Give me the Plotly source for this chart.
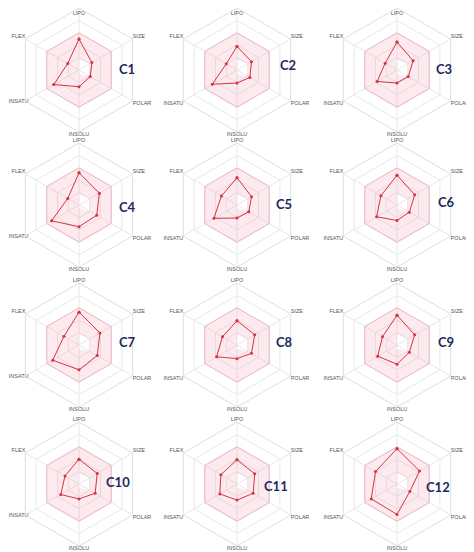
import plotly.graph_objects as go

# bioavailability radar axes, clockwise from the top
axes = ["LIPO", "SIZE", "POLAR", "INSOLU", "INSATU", "FLEX"]
axis_text_pos = ["top center", "top right", "bottom right",
                 "bottom center", "bottom left", "top left"]

# compound values, normalised to the outer hexagon (0-1), in axis order
compounds = ["C1", "C2", "C3", "C4", "C5", "C6",
             "C7", "C8", "C9", "C10", "C11", "C12"]
c1 = [0.50, 0.24, 0.21, 0.27, 0.47, 0.21]
c2 = [0.38, 0.27, 0.24, 0.21, 0.46, 0.20]
c3 = [0.45, 0.30, 0.21, 0.21, 0.37, 0.22]
c4 = [0.52, 0.38, 0.33, 0.35, 0.51, 0.21]
c5 = [0.44, 0.27, 0.22, 0.21, 0.43, 0.29]
c6 = [0.48, 0.33, 0.23, 0.25, 0.38, 0.30]
c7 = [0.53, 0.39, 0.34, 0.40, 0.49, 0.28]
c8 = [0.39, 0.33, 0.27, 0.22, 0.38, 0.27]
c9 = [0.48, 0.33, 0.23, 0.31, 0.36, 0.27]
c10 = [0.40, 0.34, 0.30, 0.24, 0.34, 0.26]
c11 = [0.39, 0.33, 0.30, 0.26, 0.32, 0.30]
c12 = [0.57, 0.42, 0.24, 0.49, 0.48, 0.40]
values = [c1, c2, c3, c4, c5, c6, c7, c8, c9, c10, c11, c12]

# optimal (pink) zone: outer limit and inner limit
zone_outer = [0.6, 0.6, 0.6, 0.6, 0.6, 0.6]
zone_inner = [0.17, 0.20, 0.20, 0.06, 0.0, 0.0]

# layout in figure pixels (the page body adds an 8px offset)
W, H = 474, 552
D = 62  # half size of each polar domain
col_x = [71, 229, 389]
row_y = [62, 197, 337, 476]
label_pos = [(119, 61), (280, 57), (436, 61),
             (119, 199), (276, 196), (438, 194),
             (119, 334), (276, 334), (438, 334),
             (110, 474), (268, 478), (430, 479)]

fig = go.Figure()

for i, name in enumerate(compounds):
    sub = "polar" if i == 0 else f"polar{i + 1}"
    cx = col_x[i % 3]
    cy = row_y[i // 3]

    # pink ring: outer hexagon clockwise + inner shape reversed -> hole
    ring_theta = axes + [axes[0], None] + axes[::-1] + [axes[-1]]
    ring_r = zone_outer + [zone_outer[0], None] + zone_inner[::-1] + [zone_inner[-1]]
    fig.add_trace(go.Scatterpolar(
        r=ring_r, theta=ring_theta, subplot=sub,
        mode="lines", fill="toself",
        fillcolor="rgba(240, 150, 170, 0.2)",
        line=dict(width=0),
        hoverinfo="skip", showlegend=False,
    ))
    fig.add_trace(go.Scatterpolar(
        r=zone_outer + [zone_outer[0]], theta=axes + [axes[0]], subplot=sub,
        mode="lines", line=dict(color="rgba(240, 165, 185, 0.7)", width=1),
        hoverinfo="skip", showlegend=False,
    ))

    v = values[i]
    fig.add_trace(go.Scatterpolar(
        r=v + [v[0]], theta=axes + [axes[0]], subplot=sub,
        mode="lines+markers",
        line=dict(color="#d9323f", width=1),
        marker=dict(size=3, color="#d9323f"),
        name=name, showlegend=False,
    ))

    # axis names just outside the outer vertices
    # (pulled in a little at the page edges so they stay visible)
    label_r = [1.0] * len(axes)
    if i < 3:
        label_r[0] = 0.86
    if i % 3 == 0:
        label_r[4] = 0.94
    fig.add_trace(go.Scatterpolar(
        r=label_r, theta=axes, subplot=sub,
        mode="text", text=axes, textposition=axis_text_pos,
        textfont=dict(size=5.5, color="#555555", family="Liberation Sans"),
        cliponaxis=False, hoverinfo="skip", showlegend=False,
    ))

    fig.layout[sub] = dict(
        domain=dict(x=[max(0, (cx - D) / W), min(1, (cx + D) / W)],
                    y=[max(0, 1 - (cy + D) / H), min(1, 1 - (cy - D) / H)]),
        gridshape="linear",
        bgcolor="white",
        radialaxis=dict(range=[0, 1], tickvals=[0.2, 0.4, 0.6, 0.8, 1.0],
                        showticklabels=False, ticks="", showline=False,
                        gridcolor="#e8e8e8", gridwidth=1),
        angularaxis=dict(rotation=90, direction="clockwise",
                         categoryorder="array", categoryarray=axes,
                         ticks="", showticklabels=False,
                         gridcolor="#e8e8e8",
                         linecolor="#dedede", linewidth=1),
    )

    lx, ly = label_pos[i]
    fig.add_annotation(
        x=lx / W, y=1 - ly / H, xref="paper", yref="paper",
        xanchor="center", yanchor="middle",
        text=f"<b>{name}</b>", showarrow=False,
        font=dict(size=13, color="#1b2a5e", family="Lato"),
    )

fig.update_layout(
    width=W, height=H,
    margin=dict(l=0, r=0, t=0, b=0),
    paper_bgcolor="white",
    plot_bgcolor="white",
)

fig.write_html("out.html")
